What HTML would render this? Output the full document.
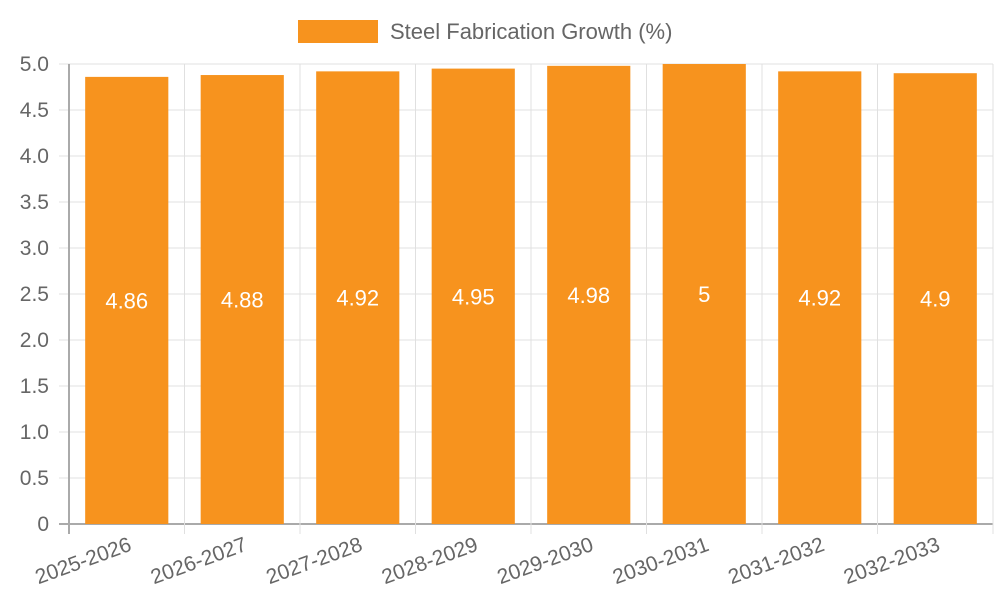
<!DOCTYPE html>
<html><head><meta charset="utf-8"><style>body{margin:0;background:#fff}svg{font-family:"Liberation Sans",sans-serif}</style></head>
<body>
<svg id="chart" width="1000" height="600">
<rect x="298" y="20" width="80" height="23" fill="#f7931e"/>
<text x="390" y="39" font-size="22" fill="#666">Steel Fabrication Growth (%)</text>
<g id="grid"></g><g id="bars"></g><g id="labels"></g>
</svg>
<script>
const categories=["2025-2026","2026-2027","2027-2028","2028-2029","2029-2030","2030-2031","2031-2032","2032-2033"];
const values=[4.86,4.88,4.92,4.95,4.98,5,4.92,4.9];
const valueLabels=["4.86","4.88","4.92","4.95","4.98","5","4.92","4.9"];
const yTicks=[0,0.5,1,1.5,2,2.5,3,3.5,4,4.5,5];
const yTickLabels=["0","0.5","1.0","1.5","2.0","2.5","3.0","3.5","4.0","4.5","5.0"];
const L=69,R=993,T=64,B=524,NS="http://www.w3.org/2000/svg";
const y=v=>B-(v/5)*(B-T);
const step=(R-L)/categories.length;
const x=i=>L+i*step;
function mk(tag,attrs,parent,txt){const e=document.createElementNS(NS,tag);for(const k in attrs)e.setAttribute(k,attrs[k]);if(txt!==undefined)e.textContent=txt;parent.appendChild(e);return e;}
const grid=document.getElementById('grid'),bars=document.getElementById('bars'),labels=document.getElementById('labels');
yTicks.forEach((t,i)=>{
 const l=mk('line',{x1:L-10,x2:R,y1:y(t),y2:y(t),stroke:i==0?'#aaa':'#e0e0e0','stroke-width':i==0?2:1},grid);
 
 
 const tx=mk('text',{x:L-20,y:y(t)+7,'text-anchor':'end','font-size':21,fill:'#666'},grid,yTickLabels[i]);
 
 
});
for(let i=0;i<=categories.length;i++){
 const l=mk('line',{x1:x(i),x2:x(i),y1:T,y2:B+10,stroke:i==0?'#aaa':'#e0e0e0','stroke-width':i==0?2:1},grid);
 
 
}
categories.forEach((c,i)=>{
 const bw=step*0.72,cx=x(i)+step/2;
 const r=mk('rect',{x:cx-bw/2,y:y(values[i]),width:bw,height:B-y(values[i]),fill:'#f7931e'},bars);
 
 
 const v=mk('text',{x:cx,y:(y(values[i])+B)/2+8,'text-anchor':'middle','font-size':22,fill:'#fff'},labels,valueLabels[i]);
 
 
 const t=mk('text',{x:cx+6,y:B+26,'text-anchor':'end','font-size':21,fill:'#666',transform:`rotate(-20 ${cx+6} ${B+26})`},labels,c);
 
 
});
</script>
</body></html>
